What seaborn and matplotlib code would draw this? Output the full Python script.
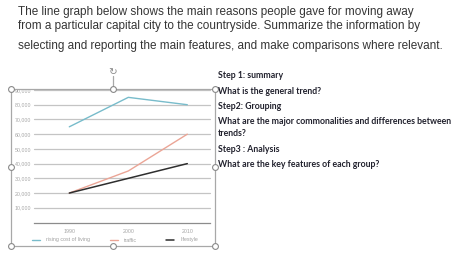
import matplotlib
matplotlib.use("Agg")
import matplotlib.pyplot as plt
from matplotlib.lines import Line2D
import seaborn as sns
import pandas as pd

# ---------------- data ----------------
years = [1990, 2000, 2010]
rising_cost = [65000, 85000, 80000]
traffic = [20000, 35000, 60000]
lifestyle = [20000, 30000, 40000]
series_names = ["rising cost of living", "traffic", "lifestyle"]
series_colors = ["#78bccb", "#eba596", "#2e2e2e"]

y_ticks = [0, 10000, 20000, 30000, 40000, 50000, 60000, 70000, 80000, 90000]
y_tick_labels = ["", "10,000", "20,000", "30,000", "40,000", "50,000",
                 "60,000", "70,000", "80,000", "90,000"]
x_tick_labels = ["1990", "2000", "2010"]

title_lines = [
    "The line graph below shows the main reasons people gave for moving away",
    "from a particular capital city to the countryside. Summarize the information by",
    "selecting and reporting the main features, and make comparisons where relevant.",
]
step_lines = [
    "Step 1: summary",
    "What is the general trend?",
    "Step2: Grouping",
    "What are the major commonalities and differences between",
    "trends?",
    "Step3 : Analysis",
    "What are the key features of each group?",
]

# ---------------- layout helpers ----------------
W, H = 474, 254
def fx(x):
    return x / W
def fy(y):
    return 1 - y / H

sns.set_style("white")
plt.rcParams["font.family"] = ["Liberation Sans", "DejaVu Sans"]

fig = plt.figure(figsize=(W / 100, H / 100), dpi=100)
fig.patch.set_facecolor("white")

# ---------------- chart ----------------
ax_left, ax_right, ax_top, ax_bottom = 34.3, 210.0, 90.0, 222.5
ax = fig.add_axes([fx(ax_left), fy(ax_bottom), (ax_right - ax_left) / W,
                   (ax_bottom - ax_top) / H])
ax.set_facecolor("none")

df = pd.DataFrame({
    "year": years * 3,
    "value": rising_cost + traffic + lifestyle,
    "series": [series_names[0]] * 3 + [series_names[1]] * 3 + [series_names[2]] * 3,
})
palette = dict(zip(series_names, series_colors))
sns.lineplot(data=df, x="year", y="value", hue="series", palette=palette,
             ax=ax, linewidth=1.0, legend=False, zorder=3)
for ln, name in zip(ax.get_lines(), series_names):
    ln.set_label(name)
ax.get_lines()[2].set_linewidth(1.1)

px_per_year = (187.3 - 69.3) / 20.0
ax.set_xlim(1990 - (69.3 - ax_left) / px_per_year, 2010 + (ax_right - 187.3) / px_per_year)
ax.set_ylim(0, 90000)
ax.set_yticks(y_ticks)
ax.set_yticklabels(y_tick_labels)
ax.set_xticks(years)
ax.set_xticklabels(x_tick_labels)
ax.set_xlabel("")
ax.set_ylabel("")

for v in y_ticks[1:]:
    ax.axhline(v, color="#c4c4c4", lw=0.9, zorder=1, clip_on=False)

for s in ["left", "right", "top"]:
    ax.spines[s].set_visible(False)
ax.spines["bottom"].set_color("#8c8c8c")
ax.spines["bottom"].set_linewidth(0.9)

ax.tick_params(axis="y", length=0, labelsize=3.8, labelcolor="#a6a6a6", pad=2.3)
ax.tick_params(axis="x", length=2, width=0.6, color="#8c8c8c", direction="out",
               labelsize=3.8, labelcolor="#a6a6a6", pad=3)

# legend: one entry per legend, placed like the reference
handles = ax.get_lines()[:3]
leg_x = [32, 110, 166]
for h, name, x in zip(handles, series_names, leg_x):
    lg = fig.legend(handles=[h], labels=[name], loc="center left",
                    bbox_to_anchor=(fx(x), fy(240)), frameon=False,
                    fontsize=3.8, handlelength=1.5, handletextpad=1.2,
                    borderpad=0, borderaxespad=0, labelcolor="#a0a0a0")

# ---------------- selection frame ----------------
frame_c = "#a8a8a8"
fl, fr, ft, fb = 10.7, 214.5, 89.0, 246.0
for (x0, y0, x1, y1) in [(fl, ft, fr, ft), (fl, fb, fr, fb), (fl, ft, fl, fb),
                         (fr, ft, fr, fb), (112.8, 75.5, 112.8, ft)]:
    fig.add_artist(Line2D([fx(x0), fx(x1)], [fy(y0), fy(y1)],
                          transform=fig.transFigure, color=frame_c, lw=0.9))
hx = [fl, 112.8, fr, fl, fr, fl, 112.8, fr]
hy = [ft, ft, ft, 167.0, 167.0, fb, fb, fb]
fig.add_artist(Line2D([fx(v) for v in hx], [fy(v) for v in hy],
                      transform=fig.transFigure, linestyle="none", marker="o",
                      markersize=4.2, markerfacecolor="white",
                      markeredgecolor="#8a8a8a", markeredgewidth=0.8))
fig.text(fx(112.8), fy(71.5), "\u21bb", ha="center", va="center", fontsize=7.5,
         color="#8a8a8a", family="DejaVu Sans")

# ---------------- texts ----------------
title_baselines = [15.0, 28.6, 49.0]
for t, yb in zip(title_lines, title_baselines):
    fig.text(fx(18.5), fy(yb), t, ha="left", va="baseline", fontsize=8.5,
             color="#353535")

step_centers = [75.7, 91.7, 107.0, 122.0, 133.2, 149.0, 164.2]
for t, yc in zip(step_lines, step_centers):
    fig.text(fx(218), fy(yc), t, ha="left", va="center", fontsize=6.3,
             fontweight="bold", color="#22222e", family=["Lato", "DejaVu Sans"])

fig.savefig("out.png", dpi=100, facecolor="white")
